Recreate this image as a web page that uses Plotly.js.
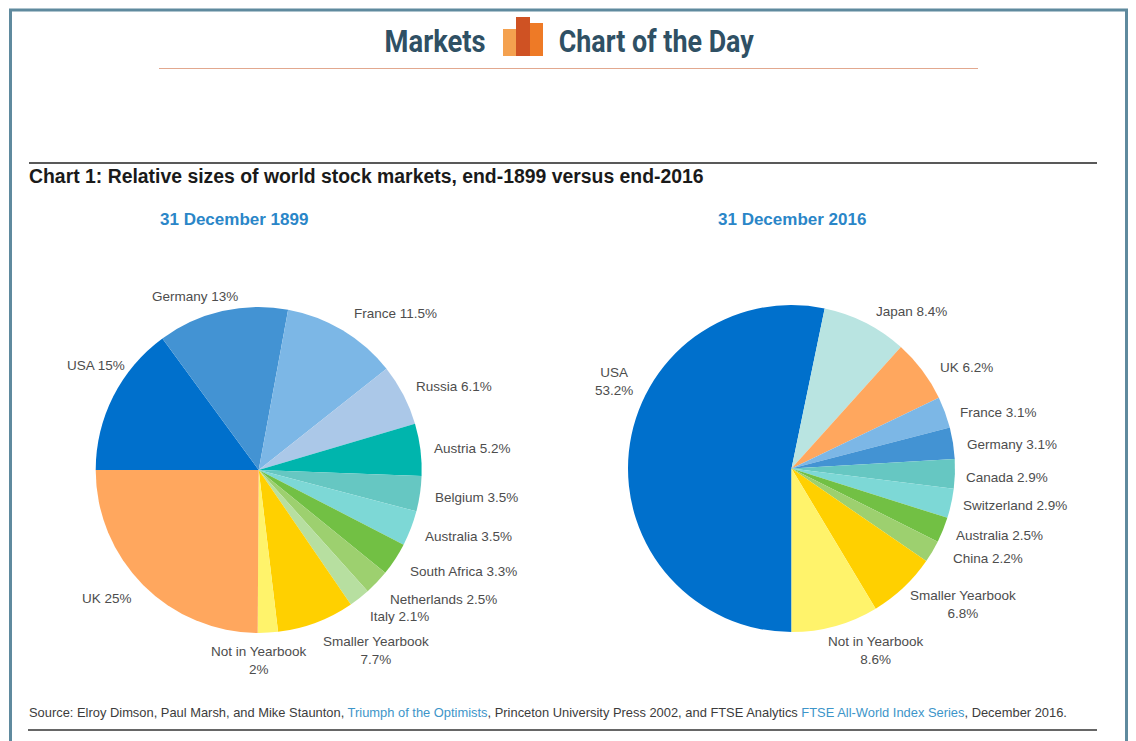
<!DOCTYPE html>
<html>
<head>
<meta charset="utf-8">
<script src="https://cdn.plot.ly/plotly-3.0.1.min.js"></script>
<style>html,body{margin:0;padding:0;background:#fff;overflow:hidden}#chart{width:1136px;height:741px}</style>
</head>
<body>
<div id="chart"></div>
<script>
// Data: 31 December 1899
const labels1899 = ['USA','Germany','France','Russia','Austria','Belgium','Australia','South Africa','Netherlands','Italy','Smaller Yearbook','Not in Yearbook','UK'];
const values1899 = [15,13,11.5,6.1,5.2,3.5,3.5,3.3,2.5,2.1,7.7,2,25];
const colors1899 = ['#0070cc','#4393d3','#7cb7e6','#abc8e8','#00b5ad','#66c7c2','#7dd8d6','#72c044','#9dd06f','#b7dfa0','#ffd000','#fff36b','#ffa75e'];
// Data: 31 December 2016
const labels2016 = ['USA','Japan','UK','France','Germany','Canada','Switzerland','Australia','China','Smaller Yearbook','Not in Yearbook'];
const values2016 = [53.2,8.4,6.2,3.1,3.1,2.9,2.9,2.5,2.2,6.8,8.6];
const colors2016 = ['#0070cc','#b9e4e1','#ffa75e','#7cb7e6','#4393d3','#66c7c2','#7dd8d6','#72c044','#9dd06f','#ffd000','#fff36b'];

// Label placement, pixels: [centre x, centre y, line break between name and value]
const place1899 = [[96,365,0],[195,296,0],[395,313,0],[454,386,0],[473,448,0],[476,497,0],[468,536,0],[463,571,0],[443,599,0],[399,616,0],[376,650,1],[259,660,1],[107,598,0]];
const place2016 = [[614,381,1],[911,311,0],[966,367,0],[998,412,0],[1012,444,0],[1007,477,0],[1015,505,0],[999,535,0],[988,558,0],[963,604,1],[876,650,1]];

const W = 1136, H = 741;
const px = v => v / W, py = v => 1 - v / H;
const TEXT = '#4d4d4d';
const LABEL_FONT = 'Liberation Sans, Arial, sans-serif';

function pie(values, labels, colors, cx, cy, r, rotation) {
  return {
    type: 'pie', values, labels, sort: false, direction: 'clockwise', rotation,
    textinfo: 'none', hoverinfo: 'label+percent', showlegend: false,
    marker: {colors, line: {width: 0}},
    domain: {x: [px(cx - r), px(cx + r)], y: [py(cy + r), py(cy - r)]}
  };
}
function sliceLabels(labels, values, place) {
  return labels.map((name, i) => ({
    xref: 'paper', yref: 'paper', x: px(place[i][0]), y: py(place[i][1]),
    xanchor: 'center', yanchor: 'middle', showarrow: false, align: 'center',
    text: name + (place[i][2] ? '<br>' : ' ') + values[i] + '%',
    font: {family: LABEL_FONT, size: 13.5, color: TEXT}
  }));
}
function rect(x0, y0, x1, y1, fill) {
  return {type: 'rect', xref: 'paper', yref: 'paper', x0: px(x0), x1: px(x1), y0: py(y0), y1: py(y1), fillcolor: fill, line: {width: 0}};
}
function hline(x0, x1, y, color, width) {
  return {type: 'line', xref: 'paper', yref: 'paper', x0: px(x0), x1: px(x1), y0: py(y), y1: py(y), line: {color, width}};
}
function text(str, x, y, size, color, bold, anchor, family) {
  return {xref: 'paper', yref: 'paper', x: px(x), y: py(y), xanchor: anchor || 'center', yanchor: 'middle', showarrow: false,
    text: bold ? '<b>' + str + '</b>' : str, font: {family: family || LABEL_FONT, size, color}};
}

const HEAD = '#2f5064';
const HEAD_FONT = 'Roboto, sans-serif';
const shapes = [
  {type: 'rect', xref: 'paper', yref: 'paper', x0: px(10.5), x1: px(1126.5), y0: py(10), y1: py(760), line: {color: '#5f8a9e', width: 3}, fillcolor: 'rgba(0,0,0,0)'},
  hline(159, 978, 68.5, '#e2a88f', 1),
  rect(503, 29, 517, 56, '#f4a14f'),
  rect(530, 23, 543, 56, '#ee7a26'),
  rect(516, 17, 530, 56, '#cf5223'),
  hline(29, 1097, 163, '#222222', 1.5),
  hline(28, 1097, 730, '#333333', 1.5)
];
const annotations = [
  text('Markets', 434.5, 41, 32, HEAD, true, 'center', HEAD_FONT),
  text('Chart of the Day', 656.5, 41, 32, HEAD, true, 'center', HEAD_FONT),
  text('Chart 1: Relative sizes of world stock markets, end-1899 versus end-2016', 27, 176, 19.4, '#1a1a1a', true, 'left'),
  text('31 December 1899', 234, 219, 17, '#2a86c8', true),
  text('31 December 2016', 792, 219, 17, '#2a86c8', true),
  text('Source: Elroy Dimson, Paul Marsh, and Mike Staunton, <span style="color:#3d95c9">Triumph of the Optimists</span>, Princeton University Press 2002, and FTSE Analytics <span style="color:#3d95c9">FTSE All-World Index Series</span>, December 2016.', 27, 712, 12.9, '#3c3c3c', false, 'left'),
  ...sliceLabels(labels1899, values1899, place1899),
  ...sliceLabels(labels2016, values2016, place2016)
];

// The header face is condensed: fit both words to their measured widths.
const HEAD_WIDTHS = [101, 195];

Plotly.newPlot('chart', [
  pie(values1899, labels1899, colors1899, 258.7, 470, 163, 270),
  pie(values2016, labels2016, colors2016, 791.5, 468.5, 163.5, 180)
], {
  width: W, height: H, margin: {l: 0, r: 0, t: 0, b: 0},
  paper_bgcolor: '#ffffff', shapes, annotations
}, {displayModeBar: false, staticPlot: true}).then(gd => {
  const nodes = gd.querySelectorAll('.annotation-text');
  HEAD_WIDTHS.forEach((w, i) => {
    nodes[i].setAttribute('textLength', w);
    nodes[i].setAttribute('lengthAdjust', 'spacingAndGlyphs');
  });
});
</script>
</body>
</html>
